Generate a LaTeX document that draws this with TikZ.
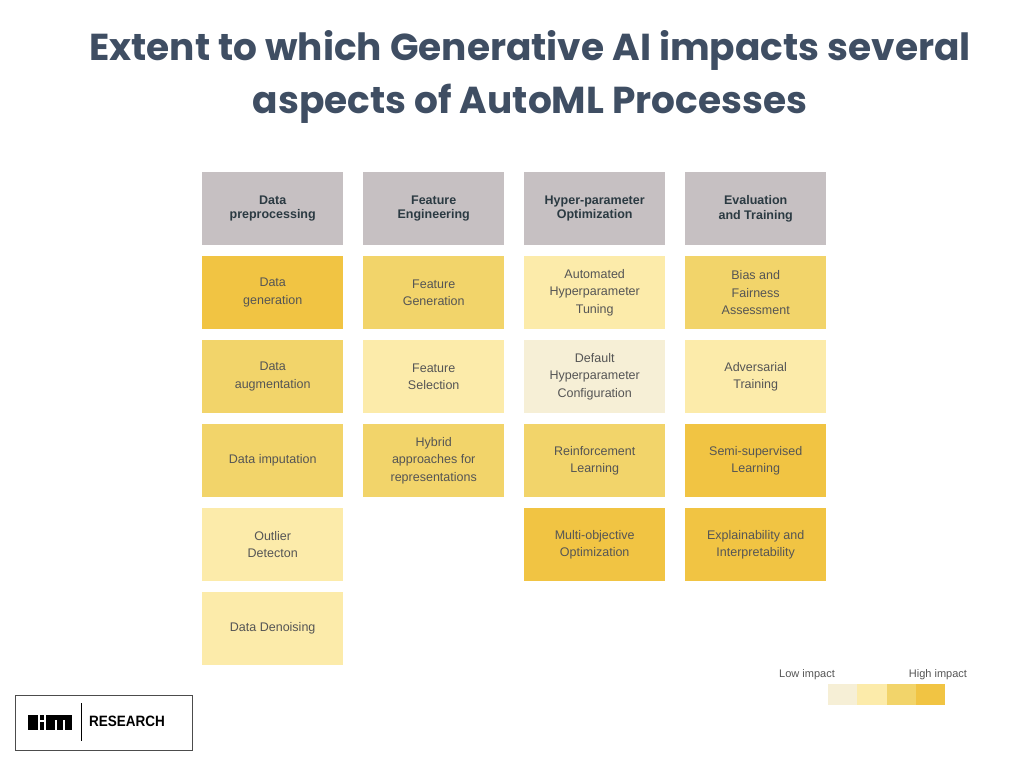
\documentclass[tikz,border=0pt]{standalone}
\usepackage{fontspec}
\setmainfont{Liberation Sans}
\newfontfamily\titlefont{Poppins}
\begin{document}
\begin{tikzpicture}[x=1pt,y=-1pt,
  cell/.style={minimum width=141pt,minimum height=73pt,inner sep=0pt,anchor=north west,align=center,font=\fontsize{12.5}{17.5}\selectfont,text=txt},
  head/.style={cell,fill=hd,font=\fontsize{12.5}{14.5}\selectfont\bfseries,text=hdtxt},
  lv/.style={minimum width=29.25pt,minimum height=21pt,inner sep=0pt,anchor=north west}]
\definecolor{lA}{HTML}{F6EFD6}
\definecolor{lB}{HTML}{FCEBAA}
\definecolor{lC}{HTML}{F2D46A}
\definecolor{lD}{HTML}{F1C443}
\definecolor{hd}{HTML}{C6C0C2}
\definecolor{txt}{HTML}{555555}
\definecolor{hdtxt}{HTML}{2B3A42}
\definecolor{ttl}{HTML}{3F4E63}
\useasboundingbox (0,0) rectangle (1024,764);
\node[font=\titlefont\bfseries\fontsize{37.5}{53}\selectfont,text=ttl,align=center] (title) at (530,77) {Extent to which Generative AI impacts several\\aspects of AutoML Processes};
% headers
\node[head] (h1) at (202,172) {Data\\preprocessing};
\node[head] (h2) at (363,172) {Feature\\Engineering};
\node[head] (h3) at (524,172) {Hyper-parameter\\Optimization};
\node[head] (h4) at (685,172) {Evaluation\\and Training};
% col1
\node[cell,fill=lD] (a1) at (202,256) {Data\\generation};
\node[cell,fill=lC] (a2) at (202,340) {Data\\augmentation};
\node[cell,fill=lC] (a3) at (202,424) {Data imputation};
\node[cell,fill=lB] (a4) at (202,508) {Outlier\\Detecton};
\node[cell,fill=lB] (a5) at (202,592) {Data Denoising};
% col2
\node[cell,fill=lC] (b1) at (363,256) {Feature\\Generation};
\node[cell,fill=lB] (b2) at (363,340) {Feature\\Selection};
\node[cell,fill=lC] (b3) at (363,424) {Hybrid\\approaches for\\representations};
% col3
\node[cell,fill=lB] (c1) at (524,256) {Automated\\Hyperparameter\\Tuning};
\node[cell,fill=lA] (c2) at (524,340) {Default\\Hyperparameter\\Configuration};
\node[cell,fill=lC] (c3) at (524,424) {Reinforcement\\Learning};
\node[cell,fill=lD] (c4) at (524,508) {Multi-objective\\Optimization};
% col4
\node[cell,fill=lC] (d1) at (685,256) {Bias and\\Fairness\\Assessment};
\node[cell,fill=lB] (d2) at (685,340) {Adversarial\\Training};
\node[cell,fill=lD] (d3) at (685,424) {Semi-supervised\\Learning};
\node[cell,fill=lD] (d4) at (685,508) {Explainability and\\Interpretability};
% legend
\node[lv,fill=lA] (g1) at (828,684) {};
\node[lv,fill=lB] (g2) at (857.25,684) {};
\node[lv,fill=lC] (g3) at (886.5,684) {};
\node[lv,fill=lD] (g4) at (915.75,684) {};
\node[font=\fontsize{11}{12}\selectfont,text=txt] (low) at (807,675) {Low impact};
\node[font=\fontsize{11}{12}\selectfont,text=txt] (high) at (938,675) {High impact};
% logo
\node[draw=black!70,line width=1.2pt,minimum width=177pt,minimum height=55pt,anchor=north west,inner sep=0pt] (logo) at (15,695) {};
\fill (28,715) rectangle (38,730);
\fill (40,715) rectangle (44,720);
\fill (40,722) rectangle (44,730);
\fill (46,715) rectangle (72,730);
\fill[white] (55,720) rectangle (57,730);
\fill[white] (63,720) rectangle (65,730);
\draw[line width=0.8pt] (81,703) -- (81,741);
\node[font=\fontsize{15}{16}\selectfont\bfseries,anchor=west,xscale=0.9] (res) at (86,721) {RESEARCH};
\end{tikzpicture}
\end{document}
